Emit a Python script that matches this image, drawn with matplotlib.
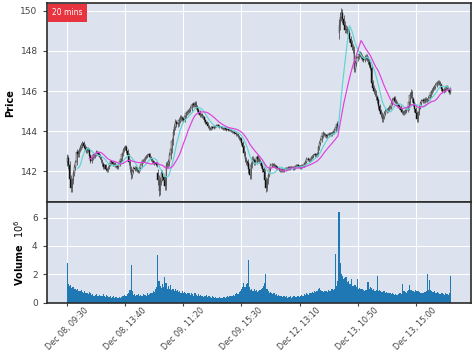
import numpy as np
import pandas as pd
import matplotlib
matplotlib.use('Agg')
import matplotlib.pyplot as plt

# 5-minute bars, four sessions (Dec 08, 09, 12, 13)
close_d1 = [142.65, 142.30, 141.60, 141.15, 141.50, 141.90, 142.20, 142.45, 142.95, 142.85,
            143.05, 143.20, 143.30, 143.40, 143.25, 143.15, 143.00, 143.10, 143.05, 142.75,
            142.50, 142.65, 142.80, 142.75, 142.85, 142.95, 142.90, 142.80, 142.70, 142.55,
            142.35, 142.20, 142.30, 142.10, 142.05, 142.20, 142.35, 142.50, 142.45, 142.35,
            142.40, 142.30, 142.25, 142.20, 142.35, 142.50, 142.60, 142.85, 143.05, 143.15,
            143.20, 143.00, 142.80, 142.45, 142.10, 141.80, 142.00, 142.15, 142.10, 142.20,
            142.05, 141.97, 142.15, 142.30, 142.47, 142.55, 142.60, 142.70, 142.75, 142.80,
            142.85, 142.70, 142.60, 142.50, 142.45, 142.40, 142.35, 142.30]
close_d2 = [141.55, 141.00, 141.50, 141.90, 141.70, 141.55, 141.25, 142.30, 142.35, 142.45,
            142.80, 143.10, 143.50, 143.95, 144.20, 144.45, 144.35, 144.40, 144.55, 144.70,
            144.65, 144.60, 144.55, 144.75, 144.90, 144.95, 145.00, 145.05, 145.15, 145.30,
            145.35, 145.30, 145.40, 145.20, 145.05, 144.95, 144.80, 144.85, 144.75, 144.70,
            144.55, 144.45, 144.38, 144.25, 144.15, 144.13, 144.20, 144.15, 144.20, 144.25,
            144.30, 144.30, 144.25, 144.20, 144.20, 144.15, 144.10, 144.15, 144.10, 144.05,
            144.10, 144.05, 144.05, 144.00, 143.95, 143.97, 143.90, 143.85, 143.85, 143.75,
            143.65, 143.60, 143.40, 143.20, 142.90, 142.60, 142.45, 142.40]
close_d3 = [142.10, 141.80, 142.30, 142.60, 142.55, 142.45, 142.47, 142.70, 142.60, 142.50,
            142.40, 142.25, 142.10, 141.97, 141.55, 141.15, 141.50, 141.80, 142.10, 142.30,
            142.30, 142.35, 142.30, 142.25, 142.20, 142.15, 142.10, 142.05, 142.10, 142.05,
            142.05, 142.10, 142.15, 142.15, 142.20, 142.15, 142.20, 142.20, 142.15, 142.20,
            142.25, 142.30, 142.30, 142.25, 142.20, 142.25, 142.30, 142.30, 142.40, 142.47,
            142.63, 142.60, 142.55, 142.60, 142.70, 142.75, 142.80, 142.85, 142.80, 142.88,
            143.20, 143.40, 143.55, 143.75, 143.90, 143.85, 143.80, 143.75, 143.80, 143.85,
            143.90, 143.85, 143.95, 143.97, 144.05, 144.20, 144.38, 144.20]
close_d4 = [149.30, 149.70, 149.90, 149.60, 149.30, 149.05, 149.10, 149.00, 148.90, 148.60,
            148.40, 148.20, 148.05, 147.10, 147.40, 147.65, 147.70, 147.85, 147.80, 147.70,
            147.60, 147.55, 147.65, 147.70, 147.60, 147.45, 147.30, 147.15, 146.40, 146.15,
            146.00, 145.90, 145.70, 145.55, 145.25, 145.00, 144.85, 144.60, 144.72, 144.90,
            145.00, 145.05, 145.10, 145.20, 145.20, 145.40, 145.55, 145.65, 145.50, 145.40,
            145.30, 145.25, 145.20, 145.05, 144.95, 144.90, 144.95, 145.00, 145.05, 145.20,
            145.45, 145.80, 145.95, 145.60, 145.40, 145.10, 144.90, 144.60, 144.90, 145.20,
            145.40, 145.50, 145.55, 145.50, 145.60, 145.55, 145.55, 145.65, 145.80, 145.95,
            146.05, 146.13, 146.20, 146.30, 146.40, 146.47, 146.40, 146.30, 146.10, 145.98,
            146.05, 146.10, 146.20, 146.13, 146.05, 145.97, 146.10]
session_open = [142.45, 141.90, 142.40, 148.90]

# intrabar high-low range beyond the body, in cents
range_d1 = [40, 35, 45, 40, 35, 30, 30, 25, 30, 25, 25, 20, 25, 25, 20, 20, 20, 20, 20, 20,
            20, 15, 20, 15, 15, 20, 15, 15, 15, 15, 15, 20, 15, 15, 15, 15, 15, 15, 12, 12,
            15, 12, 12, 12, 15, 15, 15, 20, 20, 20, 20, 20, 20, 25, 30, 35, 25, 20, 20, 15,
            15, 15, 15, 15, 15, 15, 12, 12, 15, 15, 12, 12, 15, 12, 15, 15, 15, 20]
range_d2 = [45, 50, 40, 35, 35, 35, 40, 35, 30, 30, 35, 35, 35, 35, 30, 30, 25, 25, 25, 25,
            25, 20, 20, 20, 20, 20, 20, 20, 20, 25, 20, 20, 20, 20, 20, 20, 20, 15, 15, 15,
            15, 15, 15, 15, 15, 15, 12, 12, 12, 12, 12, 12, 12, 12, 12, 12, 12, 12, 12, 12,
            12, 12, 12, 12, 12, 12, 12, 15, 15, 15, 15, 15, 20, 20, 25, 25, 25, 25]
range_d3 = [40, 35, 35, 30, 30, 25, 25, 25, 25, 20, 20, 20, 25, 25, 30, 35, 30, 25, 20, 20,
            20, 15, 15, 15, 15, 15, 15, 12, 12, 12, 12, 12, 12, 12, 12, 12, 12, 12, 12, 12,
            12, 12, 12, 12, 12, 12, 15, 15, 15, 15, 15, 15, 15, 15, 15, 15, 15, 15, 15, 15,
            25, 25, 20, 20, 20, 15, 15, 15, 15, 15, 15, 15, 15, 15, 20, 20, 30, 25]
range_d4 = [60, 50, 45, 40, 40, 35, 35, 30, 30, 35, 30, 30, 30, 35, 30, 30, 30, 25, 25, 25,
            25, 25, 25, 25, 25, 25, 25, 25, 35, 30, 30, 30, 30, 25, 25, 25, 25, 25, 25, 20,
            20, 20, 20, 20, 20, 20, 20, 20, 20, 20, 20, 20, 20, 20, 20, 20, 20, 20, 20, 20,
            25, 30, 30, 25, 25, 25, 25, 25, 25, 20, 20, 20, 20, 20, 20, 20, 20, 20, 20, 20,
            20, 20, 20, 20, 20, 20, 20, 20, 20, 20, 20, 20, 20, 20, 20, 20, 25]

# volume in millions
vol_d1 = [2.80, 1.35, 1.20, 1.25, 1.05, 1.10, 0.95, 1.00, 0.90, 0.95, 0.85, 0.80, 0.90, 0.75,
          0.70, 0.80, 0.65, 0.70, 0.60, 0.75, 0.65, 0.55, 0.60, 0.50, 0.55, 0.60, 0.50, 0.45,
          0.55, 0.45, 0.50, 0.60, 0.45, 0.40, 0.55, 0.45, 0.40, 0.45, 0.35, 0.40, 0.45, 0.35,
          0.40, 0.30, 0.35, 0.40, 0.35, 0.40, 0.45, 0.55, 0.50, 0.45, 0.60, 0.70, 0.90, 2.65,
          0.80, 0.55, 0.60, 0.50, 0.55, 0.60, 0.50, 0.55, 0.45, 0.50, 0.60, 0.55, 0.50, 0.65,
          0.55, 0.60, 0.70, 0.65, 0.80, 0.75, 0.95, 1.10]
vol_d2 = [3.35, 1.50, 1.20, 1.05, 1.30, 1.10, 1.80, 1.40, 1.00, 1.20, 0.95, 1.25, 0.90, 1.00,
          0.85, 0.95, 0.80, 0.90, 0.75, 0.80, 0.70, 0.85, 0.65, 0.75, 0.70, 0.60, 0.70, 0.65,
          0.55, 0.70, 0.60, 0.50, 0.65, 0.55, 0.50, 0.60, 0.45, 0.55, 0.50, 0.40, 0.50, 0.45,
          0.55, 0.40, 0.45, 0.40, 0.35, 0.45, 0.40, 0.35, 0.40, 0.30, 0.35, 0.40, 0.35, 0.30,
          0.35, 0.40, 0.35, 0.40, 0.45, 0.40, 0.45, 0.50, 0.45, 0.55, 0.50, 0.60, 0.65, 0.60,
          0.75, 0.80, 0.95, 1.10, 1.40, 1.10, 1.30, 1.40]
vol_d3 = [3.00, 1.10, 0.90, 1.00, 0.85, 0.95, 0.80, 0.90, 0.75, 0.85, 0.90, 1.00, 1.05, 1.20,
          1.40, 2.05, 1.00, 0.85, 0.70, 0.75, 0.65, 0.60, 0.70, 0.55, 0.60, 0.50, 0.55, 0.45,
          0.50, 0.40, 0.45, 0.50, 0.40, 0.45, 0.35, 0.40, 0.45, 0.35, 0.40, 0.45, 0.50, 0.40,
          0.45, 0.50, 0.40, 0.45, 0.55, 0.50, 0.60, 0.55, 0.65, 0.60, 0.55, 0.70, 0.65, 0.75,
          0.70, 0.80, 0.75, 0.85, 0.95, 1.05, 0.90, 0.85, 0.80, 0.75, 0.85, 0.80, 0.75, 0.90,
          0.85, 0.80, 0.95, 0.90, 1.00, 3.45, 1.20, 1.50]
vol_d4 = [6.40, 2.80, 2.00, 1.90, 1.70, 1.75, 1.80, 1.45, 1.55, 1.30, 1.30, 1.70, 1.20, 1.25,
          1.25, 1.10, 1.70, 1.00, 1.05, 0.95, 1.00, 0.90, 0.85, 0.90, 0.90, 1.45, 1.00, 1.10,
          1.05, 0.90, 0.95, 0.85, 0.90, 1.90, 0.85, 0.90, 0.80, 0.75, 0.85, 0.80, 0.70, 0.75,
          0.70, 0.65, 0.70, 0.60, 0.65, 0.60, 0.55, 0.60, 0.55, 0.60, 0.65, 0.70, 0.60, 1.35,
          0.80, 0.75, 0.70, 0.80, 0.90, 1.25, 0.90, 0.85, 0.80, 0.75, 0.90, 0.85, 0.80, 0.75,
          0.70, 0.65, 0.70, 0.65, 0.75, 0.80, 2.05, 0.90, 1.60, 0.90, 0.80, 0.75, 0.85, 0.70,
          0.65, 0.75, 0.70, 0.60, 0.65, 0.70, 0.60, 0.55, 0.65, 0.60, 0.55, 0.70, 1.90]

tick_pos = [0, 50, 100, 150, 200, 250, 300]
tick_labels = ['Dec 08, 09:30', 'Dec 08, 13:40', 'Dec 09, 11:20', 'Dec 09, 15:30',
               'Dec 12, 13:10', 'Dec 13, 10:50', 'Dec 13, 15:00']
mav_periods = (10, 20)

sessions = [close_d1, close_d2, close_d3, close_d4]
closes = np.array(close_d1 + close_d2 + close_d3 + close_d4)
opens = []
for so, sess in zip(session_open, sessions):
    opens += [so] + sess[:-1]
opens = np.array(opens)
bar_range = np.array(range_d1 + range_d2 + range_d3 + range_d4) / 100.0
volume = np.array(vol_d1 + vol_d2 + vol_d3 + vol_d4)
x = np.arange(len(closes))

bg = '#dce2ee'
fig = plt.figure(figsize=(4.74, 3.51), dpi=100)
ax = fig.add_axes([0.0985, 0.4231, 0.8962, 0.5692])
axv = fig.add_axes([0.0985, 0.1376, 0.8962, 0.2855], sharex=ax)

for a in (ax, axv):
    a.set_facecolor(bg)
    a.grid(True, color='white', linewidth=0.8)
    a.set_axisbelow(True)
    for s in a.spines.values():
        s.set_color('#2b2b2b')
        s.set_linewidth(1.2)
    a.tick_params(axis='both', labelsize=6.5, colors='#444444', length=3, width=0.8)

# candles
up = closes >= opens
lo = np.minimum(opens, closes)
hi = np.maximum(opens, closes)
ax.vlines(x, lo - bar_range / 2, hi + bar_range / 2, color='#3a3a3a', linewidth=0.5, zorder=2)
ax.bar(x[up], (hi - lo)[up], bottom=lo[up], width=0.6, color='#f0f0f0', edgecolor='#222222',
       linewidth=0.3, zorder=3)
ax.bar(x[~up], (hi - lo)[~up], bottom=lo[~up], width=0.6, color='#111111', edgecolor='#111111',
       linewidth=0.3, zorder=3)

# moving averages
mav_colors = ['#62d4d2', '#e03fe0']
for p, c in zip(mav_periods, mav_colors):
    ma = pd.Series(closes).rolling(p).mean()
    ax.plot(x, ma, color=c, linewidth=0.85, zorder=4)

ax.set_ylim(140.45, 150.4)
ax.set_yticks([142, 144, 146, 148, 150])
ax.set_ylabel('Price', fontsize=7, fontweight='bold')
ax.tick_params(axis='x', labelbottom=False, length=0)
ax.annotate('20 mins', xy=(0, 1), xycoords='axes fraction', xytext=(4, -4),
            textcoords='offset points', ha='left', va='top', fontsize=5.5, color='white',
            bbox=dict(boxstyle='square,pad=0.6', fc='#e8343e', ec='none'))

axv.bar(x, volume, width=1.0, color='#1f77b4', linewidth=0)
axv.set_ylim(0, 7.06)
axv.set_yticks([0, 2, 4, 6])
axv.set_ylabel('Volume  $10^{6}$', fontsize=7, fontweight='bold')
axv.set_xlim(-17.7, 348.1)
axv.set_xticks(tick_pos)
axv.set_xticklabels(tick_labels, rotation=45, ha='center', fontsize=5.8)
axv.tick_params(axis='x', length=2, pad=0.5)

fig.savefig('out.png', dpi=100, facecolor='white')
